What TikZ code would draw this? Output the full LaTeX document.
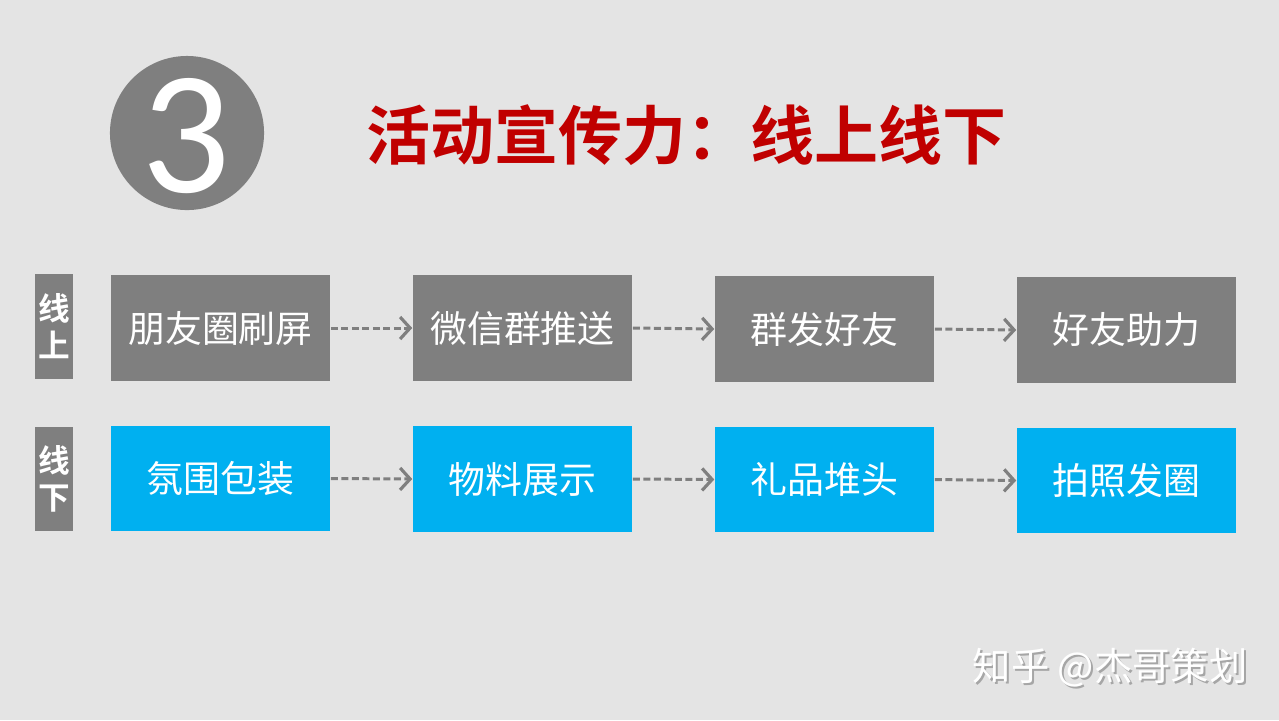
\documentclass[tikz,border=0pt]{standalone}
\usepackage{fontspec}
\setmainfont{Liberation Sans}
\newfontfamily\numfont{Carlito}
\newfontfamily\cjk{Noto Sans CJK SC}
\newfontfamily\cjkb{Noto Sans CJK SC Bold}
\usetikzlibrary{arrows.meta}
\definecolor{bg}{RGB}{228,228,228}
\definecolor{boxgray}{RGB}{127,127,127}
\definecolor{boxblue}{RGB}{0,176,240}
\definecolor{titlered}{RGB}{192,0,0}
\tikzset{
  stepbox/.style={minimum width=2.19cm, minimum height=1.05cm, inner sep=0pt, text=white,
    font=\cjk\fontsize{10.5pt}{12pt}\selectfont},
  onbox/.style={stepbox, fill=boxgray},
  offbox/.style={stepbox, fill=boxblue},
  sidebox/.style={fill=boxgray, minimum width=0.38cm, minimum height=1.04cm, inner sep=0pt,
    text=white, align=center, font=\cjkb\fontsize{9pt}{10.5pt}\selectfont},
  flow/.style={boxgray, line width=0.85pt, dash pattern=on 0.07cm off 0.035cm,
    -{Straight Barb[length=0.1cm,width=0.22cm,line width=0.9pt]}}
}
\begin{document}
\begin{tikzpicture}[x=0.01cm,y=-0.01cm]
\fill[bg] (0,0) rectangle (1279,720);
\useasboundingbox (0,0) rectangle (1279,720);
% number circle
\node[circle, fill=boxgray, minimum size=1.54cm, inner sep=0pt] (num) at (187,133) {};
\node[text=white, font=\numfont\fontsize{50pt}{54pt}\selectfont, inner sep=0pt] (numtext) at (186,136) {3};
% title
\node[anchor=west, text=titlered, font=\cjkb\fontsize{18.2pt}{20pt}\selectfont, inner sep=0pt] (title) at (366,135) {活动宣传力：线上线下};
% side labels
\node[sidebox] (online) at (54,326.5) {线\\上};
\node[sidebox] (offline) at (54,479) {线\\下};
% online row
\node[onbox] (a1) at (220.5,328) {朋友圈刷屏};
\node[onbox] (a2) at (522.5,328) {微信群推送};
\node[onbox] (a3) at (824.5,329) {群发好友};
\node[onbox] (a4) at (1126.5,330) {好友助力};
% offline row
\node[offbox] (b1) at (220.5,478.5) {氛围包装};
\node[offbox] (b2) at (522.5,479) {物料展示};
\node[offbox] (b3) at (824.5,479.5) {礼品堆头};
\node[offbox] (b4) at (1126.5,480.5) {拍照发圈};
% arrows
\draw[flow] (a1.east) -- (a2.west);
\draw[flow] (a2.east) -- (a3.west);
\draw[flow] (a3.east) -- (a4.west);
\draw[flow] (b1.east) -- (b2.west);
\draw[flow] (b2.east) -- (b3.west);
\draw[flow] (b3.east) -- (b4.west);
% watermark
\node[anchor=west, text=black!35, font=\cjk\fontsize{10.9pt}{13pt}\selectfont, inner sep=0pt] (wmshadow) at (974,670) {知乎 @杰哥策划};
\node[anchor=west, text=white, font=\cjk\fontsize{10.9pt}{13pt}\selectfont, inner sep=0pt] (wm) at (972,668) {知乎 @杰哥策划};
\end{tikzpicture}
\end{document}
